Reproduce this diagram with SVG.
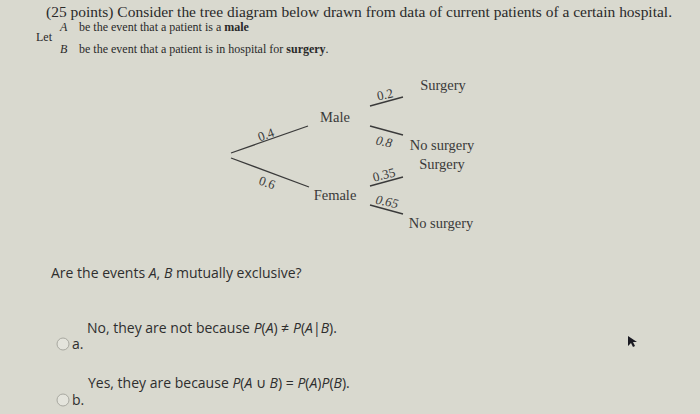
<svg xmlns="http://www.w3.org/2000/svg" width="700" height="414" viewBox="0 0 700 414">
<style>
.s{font-family:"Liberation Serif","DejaVu Serif",serif;fill:#2a2a2a;font-size:12px}
.t{font-family:"Liberation Serif","DejaVu Serif",serif;fill:#2a2a2a;font-size:15px}
.n{font-family:"Liberation Serif","DejaVu Serif",serif;fill:#3a3a3a;font-size:13px}
.m{font-family:"Liberation Serif","DejaVu Serif",serif;fill:#3a3a3a;font-size:14.5px}
.p{font-family:"Open Sans","Liberation Sans",sans-serif;fill:#2e2e2e;font-size:14px}
.l{stroke:#3a3a3a;stroke-width:1.3;fill:none}
.r{fill:#e4e4dc;stroke:#a8a8a0;stroke-width:1}
</style>
<rect width="700" height="414" fill="#d9d9cf"/>
<text class="t" x="46" y="16.5" textLength="626" lengthAdjust="spacingAndGlyphs">(25 points) Consider the tree diagram below drawn from data of current patients of a certain hospital.</text>
<text class="s" x="36" y="41" font-size="13">Let</text>
<text class="s" x="60" y="31" font-size="13" font-style="italic">A</text>
<text class="s" x="79" y="31">be the event that a patient is a <tspan font-weight="bold">male</tspan></text>
<text class="s" x="60" y="53" font-size="13" font-style="italic">B</text>
<text class="s" x="79" y="53">be the event that a patient is in hospital for <tspan font-weight="bold">surgery</tspan>.</text>
<g id="connectors">
<line class="l" x1="231" y1="153" x2="308" y2="126"/>
<line class="l" x1="231" y1="158" x2="309" y2="187"/>
<line class="l" x1="370" y1="106" x2="403" y2="97"/>
<line class="l" x1="370" y1="126" x2="403" y2="135"/>
<line class="l" x1="370" y1="186" x2="403" y2="177"/>
<line class="l" x1="370" y1="205" x2="403" y2="214"/>
</g>
<g id="labels">
<text class="n" x="266" y="139" text-anchor="middle" transform="rotate(-20 266 135)">0.4</text>
<text class="n" x="267" y="187" text-anchor="middle" transform="rotate(20 267 183)">0.6</text>
<text class="n" x="385" y="99" text-anchor="middle" transform="rotate(-12 385 95)">0.2</text>
<text class="n" x="384" y="146" text-anchor="middle" font-style="italic" transform="rotate(12 384 142)">0.8</text>
<text class="n" x="384" y="179" text-anchor="middle" transform="rotate(-14 384 175)">0.35</text>
<text class="n" x="387" y="206" text-anchor="middle" font-style="italic" transform="rotate(12 387 202)">0.65</text>
</g>
<g id="male"><text class="m" x="335" y="122" text-anchor="middle">Male</text></g>
<g id="female"><text class="m" x="335" y="200" text-anchor="middle">Female</text></g>
<g id="m-surgery"><text class="m" x="443" y="90" text-anchor="middle">Surgery</text></g>
<g id="m-nosurgery"><text class="m" x="442" y="150" text-anchor="middle">No surgery</text></g>
<g id="f-surgery"><text class="m" x="442" y="169" text-anchor="middle">Surgery</text></g>
<g id="f-nosurgery"><text class="m" x="441" y="228" text-anchor="middle">No surgery</text></g>
<text class="p" x="51" y="278">Are the events <tspan font-style="italic">A</tspan>, <tspan font-style="italic">B</tspan> mutually exclusive?</text>
<text class="p" x="87" y="333">No, they are not because <tspan font-style="italic">P</tspan>(<tspan font-style="italic">A</tspan>) ≠ <tspan font-style="italic">P</tspan>(<tspan font-style="italic">A</tspan>|<tspan font-style="italic">B</tspan>).</text>
<circle class="r" cx="63" cy="344" r="6"/>
<text class="p" x="72" y="349" font-size="13">a.</text>
<text class="p" x="88" y="388" font-size="13.7">Yes, they are because <tspan font-style="italic">P</tspan>(<tspan font-style="italic">A</tspan> ∪ <tspan font-style="italic">B</tspan>) = <tspan font-style="italic">P</tspan>(<tspan font-style="italic">A</tspan>)<tspan font-style="italic">P</tspan>(<tspan font-style="italic">B</tspan>).</text>
<circle class="r" cx="63" cy="400" r="6"/>
<text class="p" x="72" y="405" font-size="13">b.</text>
<polygon points="628,336 628,346 631,343 633,347 635,346 633,342 637,342" fill="#1a1a22"/>
</svg>
